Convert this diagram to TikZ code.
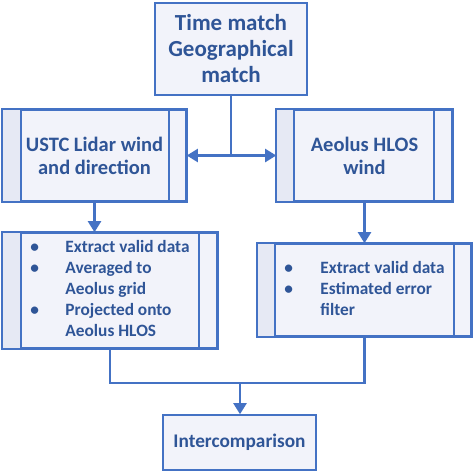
\documentclass[tikz,border=0pt]{standalone}
\usepackage{fontspec}
\setmainfont{Carlito}
\usetikzlibrary{arrows.meta}

\definecolor{boxline}{HTML}{4472C4}
\definecolor{boxtext}{HTML}{2F5597}
\definecolor{boxfill}{HTML}{F2F3FA}
\definecolor{sidefill}{HTML}{E6E9F4}

\begin{document}
\begin{tikzpicture}[x=1pt, y=1pt,
        box/.style = {draw=boxline, line width=1.6pt, fill=boxfill, text=boxtext,
                      font=\bfseries, align=center, inner sep=0pt},
        link/.style = {draw=boxline, line width=2.2pt},
        arrow/.style = {link, -{Triangle[length=11pt,width=13pt]}}]
        \useasboundingbox (0,0) rectangle (474,-474);

        \node [box, minimum width=152, minimum height=92,
               font=\bfseries\fontsize{23}{26}\selectfont]
              (match) at (231,-49) {Time match\\Geographical\\match};

        \node [box, minimum width=183, minimum height=91,
               font=\bfseries\fontsize{20.5}{23}\selectfont]
              (lidar) at (94.5,-155.5) {USTC Lidar wind\\and direction};
        \node [box, minimum width=175, minimum height=91,
               font=\bfseries\fontsize{20.5}{23}\selectfont]
              (aeolus) at (364.5,-155.5) {Aeolus HLOS\\wind};

        \node [box, minimum width=214, minimum height=115,
               font=\bfseries\fontsize{17.3}{21}\selectfont]
              (lidarproc) at (110,-290.5) {%
              \begin{tabular}{@{}p{35pt}@{}l@{}}
              \textbullet & Extract valid data\\
              \textbullet & Averaged to\\
                          & Aeolus grid\\
              \textbullet & Projected onto\\
                          & Aeolus HLOS
              \end{tabular}};
        \node [box, minimum width=213, minimum height=92,
               font=\bfseries\fontsize{17.3}{21}\selectfont]
              (aeolusproc) at (364.5,-290) {%
              \begin{tabular}{@{}p{36pt}@{}l@{}}
              \textbullet & Extract valid data\\
              \textbullet & Estimated error\\
                          & filter
              \end{tabular}};

        \node [box, minimum width=153, minimum height=55,
               font=\bfseries\fontsize{19.3}{23}\selectfont]
              (inter) at (239.5,-442.5) {Intercomparison};

        % side strips
        \foreach \b/\l/\r in {lidar/19/18, aeolus/18/19, lidarproc/19/19, aeolusproc/18/18} {
            \fill [sidefill] (\b.north west) rectangle ([xshift=\l]\b.south west);
            \draw [boxline, line width=1.6pt] (\b.north west) rectangle (\b.south east);
            \draw [boxline, line width=1.6pt] ([xshift=\l]\b.north west) -- ([xshift=\l]\b.south west);
            \draw [boxline, line width=1.6pt] ([xshift=-\r]\b.north east) -- ([xshift=-\r]\b.south east);
        }

        \coordinate (join) at (240,-383);

        \draw [arrow] (match.south) |- (lidar.east);
        \draw [arrow] (match.south) |- (aeolus.west);
        \draw [arrow] (lidar.south) -- (lidar.south |- lidarproc.north);
        \draw [arrow] (aeolus.south) -- (aeolusproc.north);
        \draw [link] (lidarproc.south) |- (join) -| (aeolusproc.south);
        \draw [arrow] (join) -- (join |- inter.north);
    \end{tikzpicture}
\end{document}
